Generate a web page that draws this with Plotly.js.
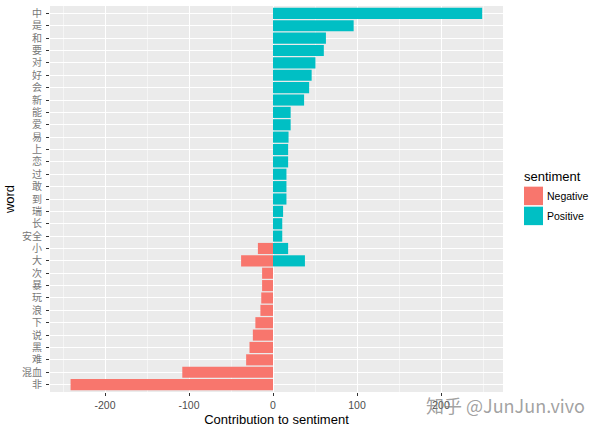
<!DOCTYPE html>
<html>
<head>
<meta charset="utf-8">
<script src="https://cdn.plot.ly/plotly-3.0.1.min.js"></script>
<style>html,body{margin:0;padding:0;background:#fff}#chart{width:600px;height:429px}</style>
</head>
<body>
<div id="chart"></div>
<script>
const words = ["中","是","和","要","对","好","会","新","能","爱","易","上","恋","过","敢","到","瑞","长","安全","小","大","次","暴","玩","浪","下","说","黑","难","混血","非"];
const positive = [249,96,63,60.5,50.5,46,43,37,21,21,18.5,18,18,16,16,16,12,11,11,18,38,null,null,null,null,null,null,null,null,null,null];
const negative = [null,null,null,null,null,null,null,null,null,null,null,null,null,null,null,null,null,null,null,-18,-38,-13,-13,-14,-15,-21,-24,-28,-32,-108,-241];
const xTicks = [-200,-100,0,100,200];
const seriesNames = ["Negative","Positive"];
const seriesColors = ["#F8766D","#00BFC4"];
const latin = "'Liberation Sans', Arial, sans-serif";
const cjk = "'Liberation Sans', 'Noto Sans CJK SC', sans-serif";

const W = 600, H = 429;
const M = {l: 50, r: 97, t: 6.3, b: 36.6};
const px = v => (v - M.l) / (W - M.l - M.r);
const py = v => 1 - (v - M.t) / (H - M.t - M.b);

const traces = [negative, positive].map((vals, i) => ({
  type: "bar", orientation: "h", name: seriesNames[i],
  y: words, x: vals, width: 0.9,
  marker: {color: seriesColors[i], line: {width: 0}},
  hoverinfo: "x+y+name"
}));

const legendY = [187, 207];

const layout = {
  width: W, height: H,
  margin: M,
  paper_bgcolor: "#fff", plot_bgcolor: "#EBEBEB",
  barmode: "overlay", showlegend: false,
  font: {family: latin, color: "#000"},
  xaxis: {
    range: [-265.5, 273.8], tickmode: "array", tickvals: xTicks, ticktext: xTicks.map(String),
    ticks: "outside", ticklen: 3, tickwidth: 1, tickcolor: "#333",
    tickfont: {family: latin, size: 10.5, color: "#4D4D4D"},
    showgrid: true, gridcolor: "#fff", gridwidth: 1, zeroline: false, showline: false,
    minor: {dtick: 50, tick0: 0, showgrid: true, gridcolor: "#fff", gridwidth: 0.5, ticks: ""},
    title: {text: "Contribution to sentiment", font: {size: 13, color: "#000"}, standoff: 5},
    automargin: false
  },
  yaxis: {
    type: "category", categoryorder: "array", categoryarray: words,
    range: [30.6, -0.6], tickmode: "linear", dtick: 1,
    ticks: "outside", ticklen: 3, tickwidth: 1, tickcolor: "#333", ticklabelstandoff: 2,
    tickfont: {family: cjk, size: 10, color: "#777"},
    showgrid: true, gridcolor: "#fff", gridwidth: 1, zeroline: false, showline: false,
    title: {text: "word", font: {size: 13, color: "#000"}, standoff: 4},
    automargin: false
  },
  shapes: seriesNames.map((n, i) => ({
    type: "rect", xref: "paper", yref: "paper", layer: "above",
    x0: px(524), x1: px(543), y0: py(legendY[i]), y1: py(legendY[i] + 18.5),
    fillcolor: seriesColors[i], line: {width: 0}
  })),
  annotations: [
    {text: "sentiment", x: px(523.5), y: py(177), xref: "paper", yref: "paper", xanchor: "left", yanchor: "middle",
     showarrow: false, xshift: -2, font: {family: latin, size: 13, color: "#000"}},
    ...seriesNames.map((n, i) => ({text: n, x: px(546.5), y: py(legendY[i] + 9.5), xref: "paper", yref: "paper",
     xanchor: "left", yanchor: "middle", showarrow: false, xshift: -2, font: {family: latin, size: 10.5, color: "#000"}})),
    {text: "知乎 @JunJun.vivo", x: px(505), y: py(405), xref: "paper", yref: "paper", xanchor: "center", yanchor: "middle",
     showarrow: false, font: {family: "'Noto Sans CJK SC', 'Liberation Sans', sans-serif", size: 18, color: "rgba(120,120,120,0.7)"}}
  ]
};

Plotly.newPlot("chart", traces, layout, {displayModeBar: false, staticPlot: true});
</script>
</body>
</html>
